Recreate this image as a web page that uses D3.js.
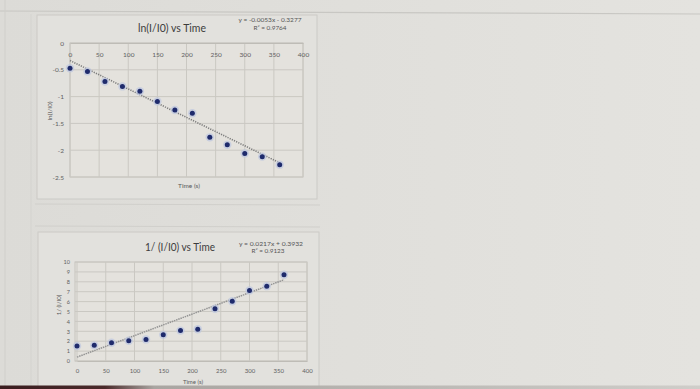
<!DOCTYPE html>
<html><head><meta charset="utf-8">
<script src="https://cdn.jsdelivr.net/npm/d3@7"></script>
<style>
html,body{margin:0;padding:0;background:#e2e1dd;}
svg{display:block;font-family:Lato,"Open Sans",sans-serif;}
</style></head>
<body>
<svg id="c" width="700" height="389"></svg>
<script>
// ---- data ----
const times = [0, 30, 60, 90, 120, 150, 180, 210, 240, 270, 300, 330, 360];
const lnVals = [-0.47, -0.53, -0.72, -0.81, -0.90, -1.09, -1.25, -1.31, -1.76, -1.90, -2.06, -2.12, -2.27];
const invVals = [1.52, 1.58, 1.85, 2.05, 2.18, 2.64, 3.07, 3.2, 5.28, 6.04, 7.13, 7.56, 8.71];
const xTicks = [0, 50, 100, 150, 200, 250, 300, 350, 400];
const lnTicks = [0, -0.5, -1, -1.5, -2, -2.5];
const lnTickLabels = ["0", "-0.5", "-1", "-1.5", "-2", "-2.5"];
const invTicks = [0, 1, 2, 3, 4, 5, 6, 7, 8, 9, 10];
const fit1 = {slope: -0.0053, intercept: -0.3277, label: "y = -0.0053x - 0.3277", r2: "R² = 0.9764"};
const fit2 = {slope: 0.0217, intercept: 0.3932, label: "y = 0.0217x + 0.3932", r2: "R² = 0.9123"};
const titles = ["ln(I/I0) vs Time", "1/ (I/I0) vs Time"];
const yTitles = ["ln(I/I0)", "1/ (I/I0)"];
const xTitle = "Time (s)";

const svg = d3.select("#c");
const defs = svg.append("defs");
const g = defs.append("linearGradient").attr("id","strip");
g.append("stop").attr("offset","0%").attr("stop-color","#3a1d1f");
g.append("stop").attr("offset","15%").attr("stop-color","#4a2a2a");
g.append("stop").attr("offset","22%").attr("stop-color","#a9a5a1");
g.append("stop").attr("offset","100%").attr("stop-color","#cfcdc9");
const bg = defs.append("linearGradient").attr("id","bg");
bg.append("stop").attr("offset","0%").attr("stop-color","#dcdbd7");
bg.append("stop").attr("offset","100%").attr("stop-color","#e4e3df");

// background
svg.append("rect").attr("width",700).attr("height",389).attr("fill","url(#bg)");
// spreadsheet lines
const line = (x1,y1,x2,y2,c,w)=>svg.append("line").attr("x1",x1).attr("y1",y1).attr("x2",x2).attr("y2",y2).attr("stroke",c).attr("stroke-width",w||1);
line(0,11,700,14,"#c8c7c3",1.2);
line(5,0,5,389,"#d0cfcb",1);
line(31,14,31,389,"#d4d3cf",1);
line(35,204,320,205,"#d0cfcb",1);
line(35,226,320,227,"#d0cfcb",1);

// chart frames
svg.append("rect").attr("x",37).attr("y",15).attr("width",280).attr("height",184).attr("fill","#e2e1dd").attr("stroke","#cbcac6");
svg.append("rect").attr("x",38).attr("y",232).attr("width",281).attr("height",170).attr("fill","#e2e1dd").attr("stroke","#cbcac6");

function drawPoints(gp, x, y, vals){
  gp.selectAll("circle.h").data(times).join("circle").attr("class","h")
    .attr("cx",d=>x(d)).attr("cy",(d,i)=>y(vals[i])).attr("r",4.2).attr("fill","#bcc6df").attr("opacity",0.7);
  gp.selectAll("circle.p").data(times).join("circle").attr("class","p")
    .attr("cx",d=>x(d)).attr("cy",(d,i)=>y(vals[i])).attr("r",2.5).attr("fill","#1f2b6c");
}

// ---------- chart 1 ----------
{
  const x = d3.scaleLinear().domain([0,400]).range([70,303]);
  const y = d3.scaleLinear().domain([-2.5,0]).range([177,43]);
  const gp = svg.append("g");
  gp.append("rect").attr("x",x(0)).attr("y",y(0)).attr("width",x(400)-x(0)).attr("height",y(-2.5)-y(0))
    .attr("fill","#e4e2dd").attr("stroke","#c6c4be");
  gp.selectAll("line.v").data(xTicks).join("line").attr("class","v")
    .attr("x1",d=>x(d)).attr("x2",d=>x(d)).attr("y1",y(0)).attr("y2",y(-2.5)).attr("stroke","#cac8c2");
  gp.selectAll("line.hz").data(lnTicks).join("line").attr("class","hz")
    .attr("y1",d=>y(d)).attr("y2",d=>y(d)).attr("x1",x(0)).attr("x2",x(400)).attr("stroke","#cac8c2");
  const ax = d3.axisBottom(x).tickValues(xTicks).tickSize(0).tickPadding(9);
  const axg = gp.append("g").attr("transform",`translate(0,${y(0)})`).call(ax);
  axg.select(".domain").attr("stroke","#bebcb6");
  axg.selectAll("text").attr("fill","#606060").attr("font-size",6.5).attr("font-family","Lato");
  const ay = d3.axisLeft(y).tickValues(lnTicks).tickFormat((d,i)=>lnTickLabels[i]).tickSize(0).tickPadding(6);
  const ayg = gp.append("g").attr("transform",`translate(${x(0)},0)`).call(ay);
  ayg.select(".domain").remove();
  ayg.selectAll("text").attr("fill","#606060").attr("font-size",6.5).attr("font-family","Lato");
  gp.append("line").attr("x1",x(0)).attr("y1",y(fit1.intercept)).attr("x2",x(360)).attr("y2",y(fit1.intercept+fit1.slope*360))
    .attr("stroke","#7d7d7d").attr("stroke-width",1.6).attr("stroke-dasharray","1.2,1.2");
  drawPoints(gp, x, y, lnVals);
  svg.append("text").attr("x",172).attr("y",32).attr("text-anchor","middle").attr("font-size",11.5)
    .attr("fill","#3c3c3c").attr("textLength",68).attr("lengthAdjust","spacingAndGlyphs").text(titles[0]);
  svg.append("text").attr("x",270).attr("y",22).attr("text-anchor","middle").attr("font-size",5.5)
    .attr("fill","#555").attr("textLength",63).attr("lengthAdjust","spacingAndGlyphs").text(fit1.label);
  svg.append("text").attr("x",270).attr("y",30).attr("text-anchor","middle").attr("font-size",5.5)
    .attr("fill","#555").attr("textLength",33).attr("lengthAdjust","spacingAndGlyphs").text(fit1.r2);
  svg.append("text").attr("x",189).attr("y",188).attr("text-anchor","middle").attr("font-size",6.5)
    .attr("fill","#5a5a5a").text(xTitle);
  svg.append("text").attr("transform","translate(52,111) rotate(-90)").attr("text-anchor","middle").attr("font-size",6.5)
    .attr("fill","#5a5a5a").text(yTitles[0]);
}

// ---------- chart 2 ----------
{
  const x = d3.scaleLinear().domain([0,400]).range([77,307]);
  const y = d3.scaleLinear().domain([0,10]).range([361,262]);
  const gp = svg.append("g");
  gp.append("rect").attr("x",x(0)-2).attr("y",y(10)).attr("width",x(400)-x(0)+2).attr("height",y(0)-y(10))
    .attr("fill","#e4e2dd").attr("stroke","#c6c4be");
  gp.selectAll("line.v").data(xTicks).join("line").attr("class","v")
    .attr("x1",d=>x(d)).attr("x2",d=>x(d)).attr("y1",y(10)).attr("y2",y(0)).attr("stroke","#cac8c2");
  gp.selectAll("line.hz").data(invTicks).join("line").attr("class","hz")
    .attr("y1",d=>y(d)).attr("y2",d=>y(d)).attr("x1",x(0)-2).attr("x2",x(400)).attr("stroke","#cac8c2");
  const ax = d3.axisBottom(x).tickValues(xTicks).tickSize(0).tickPadding(8);
  const axg = gp.append("g").attr("transform",`translate(0,${y(0)})`).call(ax);
  axg.select(".domain").attr("stroke","#bebcb6");
  axg.selectAll("text").attr("fill","#606060").attr("font-size",6).attr("font-family","Lato");
  const ay = d3.axisLeft(y).tickValues(invTicks).tickSize(0).tickPadding(5);
  const ayg = gp.append("g").attr("transform",`translate(${x(0)-2},0)`).call(ay);
  ayg.select(".domain").remove();
  ayg.selectAll("text").attr("fill","#606060").attr("font-size",5.5).attr("font-family","Lato");
  gp.append("line").attr("x1",x(0)).attr("y1",y(fit2.intercept)).attr("x2",x(360)).attr("y2",y(fit2.intercept+fit2.slope*360))
    .attr("stroke","#949494").attr("stroke-width",1.5).attr("stroke-dasharray","1.5,0.8");
  drawPoints(gp, x, y, invVals);
  svg.append("text").attr("x",180).attr("y",251).attr("text-anchor","middle").attr("font-size",11.5)
    .attr("fill","#3c3c3c").attr("textLength",70).attr("lengthAdjust","spacingAndGlyphs").text(titles[1]);
  svg.append("text").attr("x",271).attr("y",246).attr("text-anchor","middle").attr("font-size",5.5)
    .attr("fill","#555").attr("textLength",64).attr("lengthAdjust","spacingAndGlyphs").text(fit2.label);
  svg.append("text").attr("x",268).attr("y",253).attr("text-anchor","middle").attr("font-size",5.5)
    .attr("fill","#555").attr("textLength",33).attr("lengthAdjust","spacingAndGlyphs").text(fit2.r2);
  svg.append("text").attr("x",193).attr("y",384).attr("text-anchor","middle").attr("font-size",6)
    .attr("fill","#5a5a5a").text(xTitle);
  svg.append("text").attr("transform","translate(61,305) rotate(-90)").attr("text-anchor","middle").attr("font-size",6)
    .attr("fill","#5a5a5a").text(yTitles[1]);
}

// bottom dark strip
svg.append("rect").attr("x",0).attr("y",385.5).attr("width",700).attr("height",3.5).attr("fill","url(#strip)");
</script>
</body></html>
